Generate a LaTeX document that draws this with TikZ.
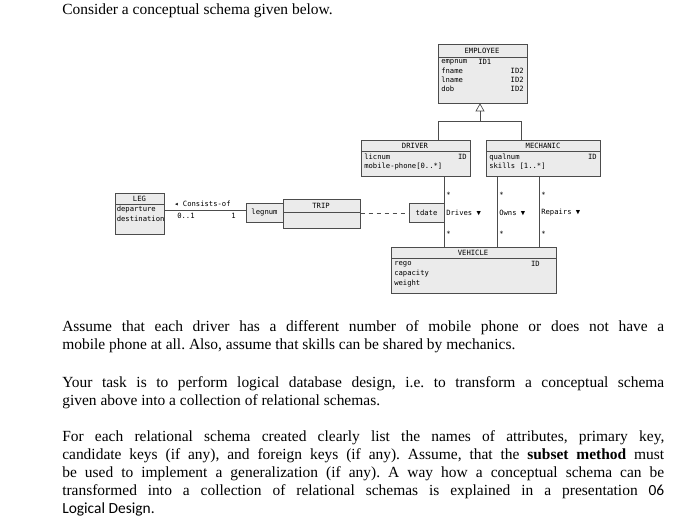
\documentclass[tikz,border=0pt]{standalone}
\usepackage{fontspec}
\setmainfont{Liberation Serif}
\newfontfamily\dmono{DejaVu Sans Mono}
\newfontfamily\carl{Carlito}
\usetikzlibrary{arrows.meta}
\frenchspacing
\begin{document}
\begin{tikzpicture}[x=0.75pt,y=-0.75pt,
  ent/.style={draw=black!70,fill=black!8,line width=0.5pt,anchor=north west,inner sep=0},
  lbl/.style={font=\dmono\fontsize{5.4}{6}\selectfont,inner sep=0},
  body/.style={anchor=base west,inner sep=0,font=\fontsize{11.6}{13}\selectfont},
  ln/.style={draw=black!70,line width=0.5pt}]
\useasboundingbox (0,0) rectangle (700,518);
\newcommand\ebox[5]{% name,x,y,w,h
 \node[ent,minimum width=#4*0.75pt,minimum height=#5*0.75pt] (#1) at (#2,#3) {};}
\node[body] (title) at (62,14) {Consider a conceptual schema given below.};
% EMPLOYEE
\ebox{emp}{438}{44}{89}{59}
\draw[ln] (438,57)--(527,57);
\node[lbl] (empt) at (482,51) {EMPLOYEE};
\node[lbl,anchor=west] (e1) at (441,62) {empnum};
\node[lbl,anchor=west] (e1i) at (478,62) {ID1};
\node[lbl,anchor=west] (e2) at (441,71) {fname};
\node[lbl,anchor=east] (e2i) at (524,71) {ID2};
\node[lbl,anchor=west] (e3) at (441,80) {lname};
\node[lbl,anchor=east] (e3i) at (524,80) {ID2};
\node[lbl,anchor=west] (e4) at (441,89) {dob};
\node[lbl,anchor=east] (e4i) at (524,89) {ID2};
% DRIVER / MECHANIC
\ebox{drv}{361}{140}{109}{36}
\draw[ln] (361,151)--(470,151);
\node[lbl] (drvt) at (415,145.5) {DRIVER};
\node[lbl,anchor=west] (d1) at (364,157) {licnum};
\node[lbl,anchor=east] (d1i) at (467,157) {ID};
\node[lbl,anchor=west] (d2) at (364,166) {mobile-phone[0..*]};
\ebox{mec}{486}{140}{114}{36}
\draw[ln] (486,151)--(600,151);
\node[lbl] (mect) at (543,145.5) {MECHANIC};
\node[lbl,anchor=west] (m1) at (489,157) {qualnum};
\node[lbl,anchor=east] (m1i) at (597,157) {ID};
\node[lbl,anchor=west] (m2) at (489,166) {skills [1..*]};
% generalization
\coordinate (tri) at (480,104);
\draw[ln,fill=white] (480,104)--(476,111)--(484,111)--cycle;
\coordinate (gj) at (480,121);
\draw[ln] (480,111)--(gj);
\draw[ln] (438,140)--(438,121)--(521,121)--(521,140);
% VEHICLE
\ebox{veh}{391}{247}{165}{46}
\draw[ln] (391,258)--(556,258);
\node[lbl] (veht) at (473,252.5) {VEHICLE};
\node[lbl,anchor=west] (v1) at (394,264) {rego};
\node[lbl,anchor=east] (v1i) at (540,264) {ID};
\node[lbl,anchor=west] (v2) at (394,274) {capacity};
\node[lbl,anchor=west] (v3) at (394,284) {weight};
\draw[ln] (444,176)--(444,247);
\draw[ln] (497,176)--(497,247);
\draw[ln] (539,176)--(539,247);
\foreach \x/\n in {444/a,497/b,539/c}{
 \node[lbl,anchor=west] (s1\n) at (\x+2,195) {*};
 \node[lbl,anchor=west] (s2\n) at (\x+2,234) {*};}
\node[lbl,anchor=west] (drives) at (446,213) {Drives ▼};
\node[lbl,anchor=west] (owns) at (499,213) {Owns ▼};
\node[lbl,anchor=west] (rep) at (541,213) {Repairs ▼};
% tdate, TRIP
\ebox{td}{409}{203}{35}{19}
\node[lbl] (tdt) at (426.5,212.5) {tdate};
\ebox{trip}{283}{199}{77}{29}
\draw[ln] (283,212)--(360,212);
\node[lbl] (tript) at (321,205.5) {TRIP};
\ebox{lg}{246}{203}{37}{19}
\node[lbl] (lgt) at (264.5,212.5) {legnum};
\draw[ln,dashed] (trip.east|-td.west)--(td.west);
% LEG
\ebox{leg}{115}{193}{49}{41}
\draw[ln] (115,204)--(164,204);
\node[lbl] (legt) at (139.5,198.5) {LEG};
\node[lbl,anchor=west] (l1) at (116.5,210) {departure};
\node[lbl,anchor=west] (l2) at (116.5,219) {destination};
\draw[ln] (164,210)--(lg.west|-0,210);
\node[lbl,anchor=west] (cons) at (174,204) {◂ Consists-of};
\node[lbl,anchor=west] (m01) at (177,216) {0..1};
\node[lbl,anchor=east] (m1x) at (236,216) {1};
% text
\newcommand\jl[1]{\makebox[602\dimexpr 0.75pt\relax][s]{#1}}
\node[body] (p1) at (62,331) {\jl{Assume that each driver has a different number of mobile phone or does not have a}};
\node[body] (p2) at (62,349) {mobile phone at all. Also, assume that skills can be shared by mechanics.};
\node[body] (p3) at (62,387) {\jl{Your task is to perform logical database design, i.e. to transform a conceptual schema}};
\node[body] (p4) at (62,405) {given above into a collection of relational schemas.};
\node[body] (p5) at (62,441) {\jl{For each relational schema created clearly list the names of attributes, primary key,}};
\node[body] (p6) at (62,459) {\jl{candidate keys (if any), and foreign keys (if any). Assume, that the \textbf{subset method} must}};
\node[body] (p7) at (62,477) {\jl{be used to implement a generalization (if any). A way how a conceptual schema can be}};
\node[body] (p8) at (62,495) {\jl{transformed into a collection of relational schemas is explained in a presentation {\carl 06}}};
\node[body] (p9) at (62,513) {\carl Logical Design.};
\end{tikzpicture}
\end{document}
